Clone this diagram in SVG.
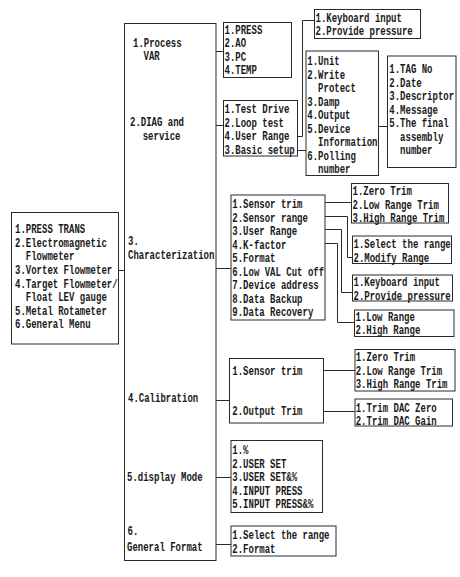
<svg xmlns="http://www.w3.org/2000/svg" width="460" height="577" viewBox="0 0 460 577">
<style>
rect{fill:#fff;stroke:#2a2a2a;stroke-width:1}
.c path{fill:none;stroke:#2a2a2a;stroke-width:1}
text{font-family:"Liberation Mono","DejaVu Sans Mono",monospace;font-size:13.5px;font-weight:bold;fill:#1a1a1a}
</style>
<rect x="0" y="0" width="460" height="577" style="stroke:none"/>
<g class="c" id="connectors">
<path d="M118.5,270.5 H124.5"/>
<path d="M216,51.5 H223.5"/>
<path d="M216,125.5 H223.5"/>
<path d="M297.5,136.5 H302.5 V20.5 H314.5"/>
<path d="M297.5,150.5 H306"/>
<path d="M378.5,126.5 H387.5"/>
<path d="M216,268.5 H231"/>
<path d="M325,202.5 H351.5"/>
<path d="M325,216.5 H347.5 V257.5 H352.5"/>
<path d="M325,229.5 H341.5 V292.5 H352.5"/>
<path d="M325,243.5 H337.5 V322.5 H354.5"/>
<path d="M216,400.5 H229.5"/>
<path d="M323.5,370.5 H355"/>
<path d="M323.5,411.5 H355"/>
<path d="M216,477.5 H231"/>
<path d="M216,544.5 H231"/>
</g>
<g id="main">
<rect x="124.5" y="23.5" width="91.5" height="537"/>
<text x="133" y="46.5" textLength="48.6" lengthAdjust="spacingAndGlyphs">1.Process</text>
<text x="143.5" y="59.5" textLength="16.2" lengthAdjust="spacingAndGlyphs">VAR</text>
<text x="130" y="126" textLength="54" lengthAdjust="spacingAndGlyphs">2.DIAG and</text>
<text x="142.7" y="139.5" textLength="37.8" lengthAdjust="spacingAndGlyphs">service</text>
<text x="128" y="245" textLength="10.8" lengthAdjust="spacingAndGlyphs">3.</text>
<text x="128" y="259" textLength="86.4" lengthAdjust="spacingAndGlyphs">Characterization</text>
<text x="128" y="402" textLength="70.2" lengthAdjust="spacingAndGlyphs">4.Calibration</text>
<text x="127" y="481" textLength="75.6" lengthAdjust="spacingAndGlyphs">5.display Mode</text>
<text x="127.5" y="535" textLength="10.8" lengthAdjust="spacingAndGlyphs">6.</text>
<text x="127" y="551" textLength="75.6" lengthAdjust="spacingAndGlyphs">General Format</text>
</g>
<g id="root">
<rect x="11.5" y="212.5" width="107" height="131.5"/>
<text x="15" y="233.3" textLength="70.2" lengthAdjust="spacingAndGlyphs">1.PRESS TRANS</text>
<text x="15" y="246.9" textLength="91.8" lengthAdjust="spacingAndGlyphs">2.Electromagnetic</text>
<text x="25.8" y="260.4" textLength="48.6" lengthAdjust="spacingAndGlyphs">Flowmeter</text>
<text x="15" y="274" textLength="97.2" lengthAdjust="spacingAndGlyphs">3.Vortex Flowmeter</text>
<text x="15" y="287.6" textLength="102.6" lengthAdjust="spacingAndGlyphs">4.Target Flowmeter/</text>
<text x="25.8" y="301.1" textLength="81" lengthAdjust="spacingAndGlyphs">Float LEV gauge</text>
<text x="15" y="314.7" textLength="91.8" lengthAdjust="spacingAndGlyphs">5.Metal Rotameter</text>
<text x="15" y="328.3" textLength="75.6" lengthAdjust="spacingAndGlyphs">6.General Menu</text>
</g>
<g id="process-var">
<rect x="223.5" y="22.5" width="68" height="55"/>
<text x="224.5" y="33.5" textLength="37.8" lengthAdjust="spacingAndGlyphs">1.PRESS</text>
<text x="224.5" y="47" textLength="21.6" lengthAdjust="spacingAndGlyphs">2.AO</text>
<text x="224.5" y="60.5" textLength="21.6" lengthAdjust="spacingAndGlyphs">3.PC</text>
<text x="224.5" y="74" textLength="32.4" lengthAdjust="spacingAndGlyphs">4.TEMP</text>
</g>
<g id="diag">
<rect x="223.5" y="100.5" width="74" height="55.5"/>
<text x="224.5" y="113" textLength="64.8" lengthAdjust="spacingAndGlyphs">1.Test Drive</text>
<text x="224.5" y="126.5" textLength="59.4" lengthAdjust="spacingAndGlyphs">2.Loop test</text>
<text x="224.5" y="140" textLength="64.8" lengthAdjust="spacingAndGlyphs">4.User Range</text>
<text x="224.5" y="153.5" textLength="70.2" lengthAdjust="spacingAndGlyphs">3.Basic setup</text>
</g>
<g id="keyboard-1">
<rect x="314.5" y="9.5" width="106" height="29"/>
<text x="315.5" y="21.5" textLength="86.4" lengthAdjust="spacingAndGlyphs">1.Keyboard input</text>
<text x="315.5" y="35" textLength="97.2" lengthAdjust="spacingAndGlyphs">2.Provide pressure</text>
</g>
<g id="basic-setup">
<rect x="306" y="51" width="72.5" height="124.5"/>
<text x="307.3" y="65" textLength="32.4" lengthAdjust="spacingAndGlyphs">1.Unit</text>
<text x="307.3" y="78.5" textLength="37.8" lengthAdjust="spacingAndGlyphs">2.Write</text>
<text x="318.1" y="92" textLength="37.8" lengthAdjust="spacingAndGlyphs">Protect</text>
<text x="307.3" y="105.5" textLength="32.4" lengthAdjust="spacingAndGlyphs">3.Damp</text>
<text x="307.3" y="119" textLength="43.2" lengthAdjust="spacingAndGlyphs">4.Output</text>
<text x="307.3" y="132.5" textLength="43.2" lengthAdjust="spacingAndGlyphs">5.Device</text>
<text x="318.1" y="146" textLength="59.4" lengthAdjust="spacingAndGlyphs">Information</text>
<text x="307.3" y="159.5" textLength="48.6" lengthAdjust="spacingAndGlyphs">6.Polling</text>
<text x="318.1" y="173" textLength="32.4" lengthAdjust="spacingAndGlyphs">number</text>
</g>
<g id="device-info">
<rect x="387.5" y="56" width="68.5" height="111.5"/>
<text x="389.3" y="73" textLength="43.2" lengthAdjust="spacingAndGlyphs">1.TAG No</text>
<text x="389.3" y="86.5" textLength="32.4" lengthAdjust="spacingAndGlyphs">2.Date</text>
<text x="389.3" y="100" textLength="64.8" lengthAdjust="spacingAndGlyphs">3.Descriptor</text>
<text x="389.3" y="113.5" textLength="48.6" lengthAdjust="spacingAndGlyphs">4.Message</text>
<text x="389.3" y="127" textLength="59.4" lengthAdjust="spacingAndGlyphs">5.The final</text>
<text x="400.1" y="140.5" textLength="43.2" lengthAdjust="spacingAndGlyphs">assembly</text>
<text x="400.1" y="154" textLength="32.4" lengthAdjust="spacingAndGlyphs">number</text>
</g>
<g id="characterization">
<rect x="231" y="195" width="94" height="125"/>
<text x="232.3" y="208" textLength="70.2" lengthAdjust="spacingAndGlyphs">1.Sensor trim</text>
<text x="232.3" y="221.5" textLength="75.6" lengthAdjust="spacingAndGlyphs">2.Sensor range</text>
<text x="232.3" y="235" textLength="64.8" lengthAdjust="spacingAndGlyphs">3.User Range</text>
<text x="232.3" y="248.5" textLength="54" lengthAdjust="spacingAndGlyphs">4.K-factor</text>
<text x="232.3" y="262" textLength="43.2" lengthAdjust="spacingAndGlyphs">5.Format</text>
<text x="232.3" y="275.5" textLength="91.8" lengthAdjust="spacingAndGlyphs">6.Low VAL Cut off</text>
<text x="232.3" y="289" textLength="86.4" lengthAdjust="spacingAndGlyphs">7.Device address</text>
<text x="232.3" y="302.5" textLength="70.2" lengthAdjust="spacingAndGlyphs">8.Data Backup</text>
<text x="232.3" y="316" textLength="81" lengthAdjust="spacingAndGlyphs">9.Data Recovery</text>
</g>
<g id="sensor-trim-1">
<rect x="351.5" y="183.5" width="97" height="39.5"/>
<text x="352.5" y="195" textLength="59.4" lengthAdjust="spacingAndGlyphs">1.Zero Trim</text>
<text x="352.5" y="208.5" textLength="86.4" lengthAdjust="spacingAndGlyphs">2.Low Range Trim</text>
<text x="352.5" y="222" textLength="91.8" lengthAdjust="spacingAndGlyphs">3.High Range Trim</text>
</g>
<g id="sensor-range">
<rect x="352.5" y="236" width="99" height="27.5"/>
<text x="353.5" y="248" textLength="97.2" lengthAdjust="spacingAndGlyphs">1.Select the range</text>
<text x="353.5" y="261.5" textLength="75.6" lengthAdjust="spacingAndGlyphs">2.Modify Range</text>
</g>
<g id="keyboard-2">
<rect x="352.5" y="275" width="100" height="26"/>
<text x="353.5" y="286" textLength="86.4" lengthAdjust="spacingAndGlyphs">1.Keyboard input</text>
<text x="353.5" y="299.5" textLength="97.2" lengthAdjust="spacingAndGlyphs">2.Provide pressure</text>
</g>
<g id="k-factor">
<rect x="354.5" y="310" width="99.5" height="26.5"/>
<text x="355.5" y="320.5" textLength="59.4" lengthAdjust="spacingAndGlyphs">1.Low Range</text>
<text x="355.5" y="334" textLength="64.8" lengthAdjust="spacingAndGlyphs">2.High Range</text>
</g>
<g id="calibration">
<rect x="229.5" y="358.5" width="94" height="64.5"/>
<text x="232.3" y="375" textLength="70.2" lengthAdjust="spacingAndGlyphs">1.Sensor trim</text>
<text x="232.3" y="415" textLength="70.2" lengthAdjust="spacingAndGlyphs">2.Output Trim</text>
</g>
<g id="sensor-trim-2">
<rect x="355" y="349.5" width="100" height="41.5"/>
<text x="355.7" y="361" textLength="59.4" lengthAdjust="spacingAndGlyphs">1.Zero Trim</text>
<text x="355.7" y="374.5" textLength="86.4" lengthAdjust="spacingAndGlyphs">2.Low Range Trim</text>
<text x="355.7" y="388" textLength="91.8" lengthAdjust="spacingAndGlyphs">3.High Range Trim</text>
</g>
<g id="output-trim">
<rect x="355" y="399" width="97.5" height="27"/>
<text x="355.7" y="411.5" textLength="81" lengthAdjust="spacingAndGlyphs">1.Trim DAC Zero</text>
<text x="355.7" y="425" textLength="81" lengthAdjust="spacingAndGlyphs">2.Trim DAC Gain</text>
</g>
<g id="display-mode">
<rect x="231" y="440.5" width="91.5" height="72"/>
<text x="232.3" y="454" textLength="16.2" lengthAdjust="spacingAndGlyphs">1.%</text>
<text x="232.3" y="467.5" textLength="54" lengthAdjust="spacingAndGlyphs">2.USER SET</text>
<text x="232.3" y="481" textLength="64.8" lengthAdjust="spacingAndGlyphs">3.USER SET&amp;%</text>
<text x="232.3" y="494.5" textLength="70.2" lengthAdjust="spacingAndGlyphs">4.INPUT PRESS</text>
<text x="232.3" y="508" textLength="81" lengthAdjust="spacingAndGlyphs">5.INPUT PRESS&amp;%</text>
</g>
<g id="general-format">
<rect x="231" y="526" width="105" height="30"/>
<text x="232.3" y="539" textLength="97.2" lengthAdjust="spacingAndGlyphs">1.Select the range</text>
<text x="232.3" y="552.5" textLength="43.2" lengthAdjust="spacingAndGlyphs">2.Format</text>
</g>
</svg>
